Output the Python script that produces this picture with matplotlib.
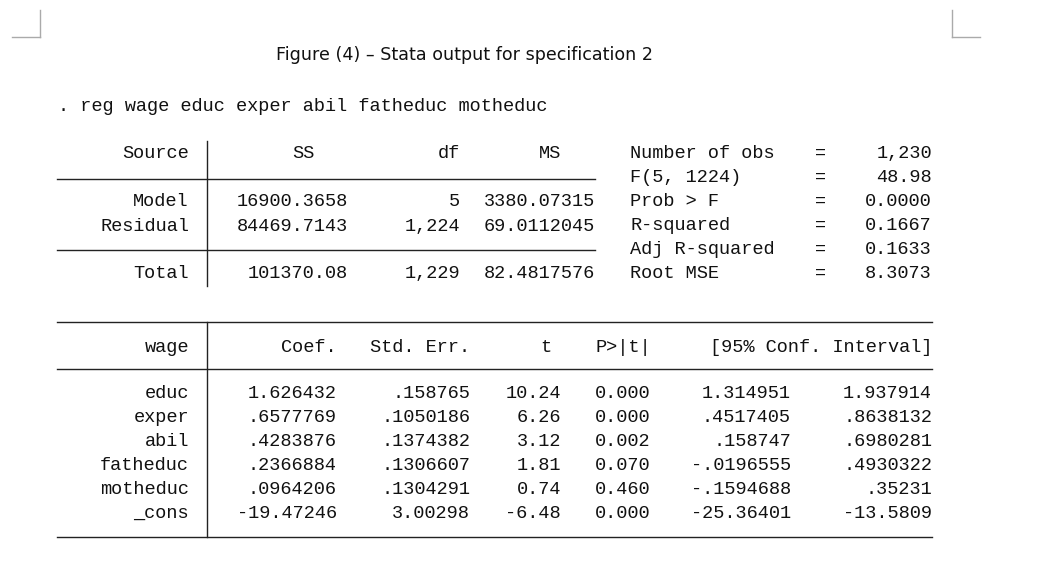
import matplotlib
matplotlib.use("Agg")
import matplotlib.pyplot as plt

# -----------------------------
# Data
# -----------------------------
anova_rows = ["Model", "Residual", "Total"]
anova_ss = ["16900.3658", "84469.7143", "101370.08"]
anova_df = ["5", "1,224", "1,229"]
anova_ms = ["3380.07315", "69.0112045", "82.4817576"]

stat_labels = ["Number of obs", "F(5, 1224)", "Prob > F", "R-squared", "Adj R-squared", "Root MSE"]
stat_values = ["1,230", "48.98", "0.0000", "0.1667", "0.1633", "8.3073"]

coef_names = ["educ", "exper", "abil", "fatheduc", "motheduc", "_cons"]
coef = ["1.626432", ".6577769", ".4283876", ".2366884", ".0964206", "-19.47246"]
std_err = [".158765", ".1050186", ".1374382", ".1306607", ".1304291", "3.00298"]
t_vals = ["10.24", "6.26", "3.12", "1.81", "0.74", "-6.48"]
p_vals = ["0.000", "0.000", "0.002", "0.070", "0.460", "0.000"]
ci_low = ["1.314951", ".4517405", ".158747", "-.0196555", "-.1594688", "-25.36401"]
ci_high = ["1.937914", ".8638132", ".6980281", ".4930322", ".35231", "-13.5809"]

# -----------------------------
# Figure in pixel coordinates
# -----------------------------
fig = plt.figure(figsize=(10.38, 5.61), dpi=100)
ax = fig.add_axes([0, 0, 1, 1])
ax.set_xlim(0, 1038)
ax.set_ylim(561, 0)
ax.axis("off")

MONO = dict(family="Liberation Mono", fontsize=13.4, color="#111111", va="center")

def txt(x, y, s, ha="right"):
    ax.text(x, y, s, ha=ha, **MONO)

def hline(y, x0, x1, c="#222222"):
    ax.plot([x0, x1], [y, y], color=c, lw=1)

def vline(x, y0, y1, c="#222222"):
    ax.plot([x, x], [y0, y1], color=c, lw=1)

# corner marks
vline(40, 10, 37, "#aaaaaa"); hline(37, 12, 40, "#aaaaaa")
vline(952, 10, 37, "#aaaaaa"); hline(37, 952, 980, "#aaaaaa")

ax.text(464, 55, "Figure (4) – Stata output for specification 2", ha="center", va="center",
        family="DejaVu Sans", fontsize=12.6, color="#111111")
txt(58, 106, ". reg wage educ exper abil fatheduc motheduc", ha="left")

# ANOVA table
txt(189, 153, "Source"); txt(314, 153, "SS"); txt(460, 153, "df"); txt(561, 153, "MS")
hline(179, 57, 595)
ys = [201, 226, 273]
for y, r, ss, d, ms in zip(ys, anova_rows, anova_ss, anova_df, anova_ms):
    txt(189, y, r); txt(348, y, ss); txt(460, y, d); txt(595, y, ms)
hline(250, 57, 595)
vline(207, 141, 286)

for i, (lab, val) in enumerate(zip(stat_labels, stat_values)):
    y = 153 + i * 24.1
    txt(630, y, lab, ha="left"); txt(815, y, "=", ha="left"); txt(932, y, val)

# coefficient table
hline(322, 57, 932)
txt(189, 347, "wage"); txt(337, 347, "Coef."); txt(470, 347, "Std. Err.")
txt(551, 347, "t"); txt(651, 347, "P>|t|"); txt(932, 347, "[95% Conf. Interval]")
hline(369, 57, 932)
for i in range(len(coef_names)):
    y = 393 + i * 24
    txt(189, y, coef_names[i]); txt(337, y, coef[i]); txt(470, y, std_err[i])
    txt(561, y, t_vals[i]); txt(651, y, p_vals[i])
    txt(791, y, ci_low[i]); txt(932, y, ci_high[i])
hline(537, 57, 932)
vline(207, 322, 537)

fig.savefig("out.png", dpi=100, facecolor="white")
